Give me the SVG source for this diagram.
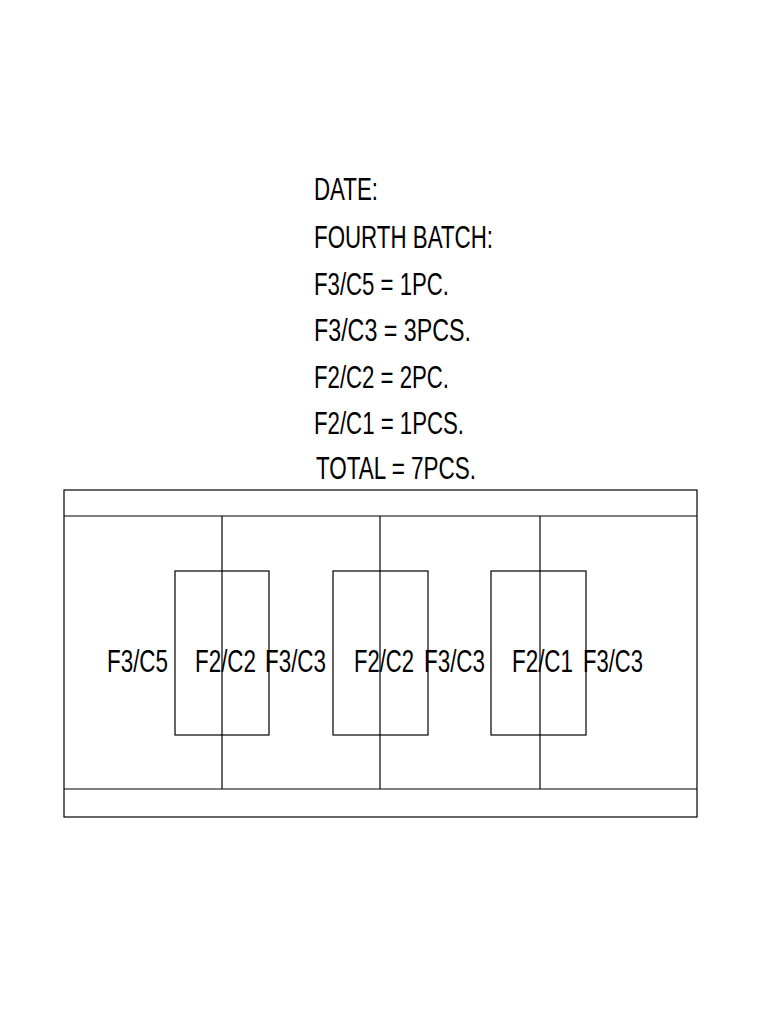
<svg xmlns="http://www.w3.org/2000/svg" width="768" height="1024" viewBox="0 0 768 1024">
<style>
text{font-family:"Liberation Sans",Arial,sans-serif;font-size:32px;fill:#000}
.l{stroke:#000;stroke-width:1.2;fill:none}
</style>
<rect width="768" height="1024" fill="#fff"/>
<g id="notes">
<text x="314" y="200" textLength="64" lengthAdjust="spacingAndGlyphs">DATE:</text>
<text x="314" y="248" textLength="179" lengthAdjust="spacingAndGlyphs">FOURTH BATCH:</text>
<text x="314" y="295" textLength="135" lengthAdjust="spacingAndGlyphs">F3/C5 = 1PC.</text>
<text x="314" y="341" textLength="157" lengthAdjust="spacingAndGlyphs">F3/C3 = 3PCS.</text>
<text x="314" y="388" textLength="135" lengthAdjust="spacingAndGlyphs">F2/C2 = 2PC.</text>
<text x="314" y="434" textLength="150" lengthAdjust="spacingAndGlyphs">F2/C1 = 1PCS.</text>
<text x="316" y="479" textLength="160" lengthAdjust="spacingAndGlyphs">TOTAL = 7PCS.</text>
</g>
<g id="frame" class="l">
<rect x="64" y="490" width="633" height="327"/>
<line x1="64" y1="516" x2="697" y2="516"/>
<line x1="64" y1="789" x2="697" y2="789"/>
<line x1="222" y1="516" x2="222" y2="789"/>
<line x1="380" y1="516" x2="380" y2="789"/>
<line x1="540" y1="516" x2="540" y2="789"/>
<rect x="175" y="571" width="94" height="164"/>
<rect x="333" y="571" width="95" height="164"/>
<rect x="491" y="571" width="95" height="164"/>
</g>
<g id="labels">
<text x="107" y="672" textLength="61" lengthAdjust="spacingAndGlyphs">F3/C5</text>
<text x="195" y="672" textLength="61" lengthAdjust="spacingAndGlyphs">F2/C2</text>
<text x="265" y="672" textLength="61" lengthAdjust="spacingAndGlyphs">F3/C3</text>
<text x="354" y="672" textLength="60" lengthAdjust="spacingAndGlyphs">F2/C2</text>
<text x="424" y="672" textLength="61" lengthAdjust="spacingAndGlyphs">F3/C3</text>
<text x="512" y="672" textLength="61" lengthAdjust="spacingAndGlyphs">F2/C1</text>
<text x="583" y="672" textLength="60" lengthAdjust="spacingAndGlyphs">F3/C3</text>
</g>
</svg>
